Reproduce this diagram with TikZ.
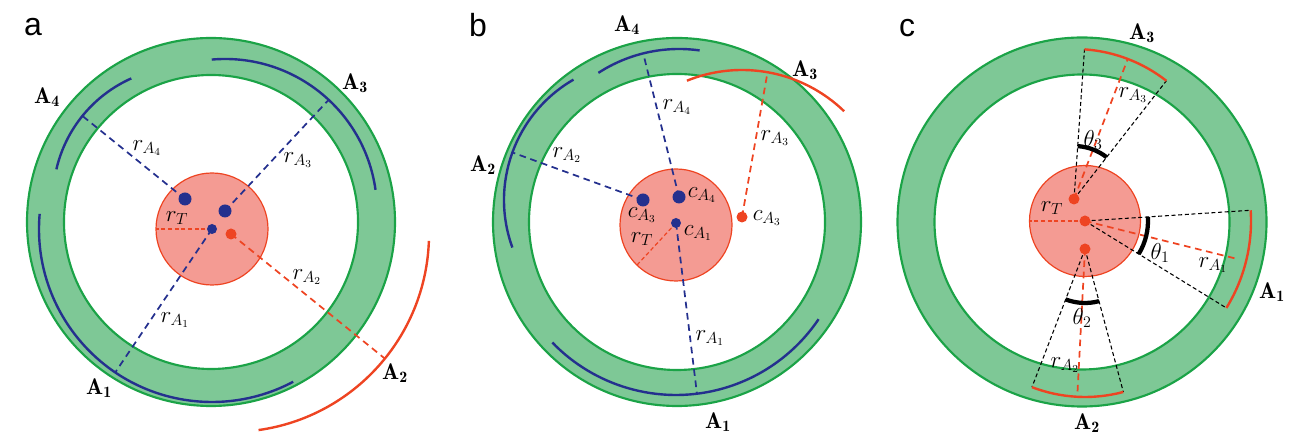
\documentclass[tikz,border=0pt]{standalone}
\usepackage{fontspec}
\newfontfamily\panelfont{Liberation Sans}
\usetikzlibrary{calc}
\definecolor{ringfill}{HTML}{7EC896}
\definecolor{ringline}{HTML}{1BA347}
\definecolor{tfill}{HTML}{F49B93}
\definecolor{tline}{HTML}{EE4422}
\definecolor{ablue}{HTML}{24308E}
\begin{document}
\begin{tikzpicture}[x=0.75pt,y=0.75pt,
  ringfillstyle/.style={fill=ringfill,even odd rule},
  ringdraw/.style={draw=ringline,line width=1.6pt},
  tumor/.style={fill=tfill,draw=tline,line width=0.9pt},
  arcb/.style={draw=ablue,line width=1.8pt},
  arco/.style={draw=tline,line width=1.8pt},
  dashb/.style={draw=ablue,line width=1.3pt,dash pattern=on 5pt off 3.5pt},
  dasho/.style={draw=tline,line width=1.3pt,dash pattern=on 5pt off 3.5pt},
  dashot/.style={draw=tline,line width=0.9pt,dash pattern=on 3pt off 2pt},
  dashk/.style={draw=black,line width=0.8pt,dash pattern=on 3pt off 2pt},
  thick arc/.style={draw=black,line width=3.2pt},
  dotb/.style={fill=ablue},
  doto/.style={fill=tline},
  lab/.style={inner sep=0pt,font=\fontsize{17}{18}\selectfont},
  alab/.style={inner sep=0pt,font=\fontsize{17}{18}\selectfont},
  plab/.style={inner sep=0pt,font=\panelfont\fontsize{24}{26}\selectfont}]
\useasboundingbox (0,0) rectangle (1294,448);
% ---------------- panel a
\coordinate (Ra) at (211,226);
\coordinate (Ta) at (212,219);
\coordinate (a4) at (185,249);
\coordinate (a3) at (225,237);
\coordinate (a2) at (231,214);
\fill[ringfillstyle] (Ra) circle (184) (Ra) circle (147);
\draw[ringdraw] (Ra) circle (184) (Ra) circle (147);
\draw[tumor] (Ta) circle (56);
\draw[arcb] ($(Ta)+(175:173)$) arc[start angle=175,end angle=298,radius=173];
\draw[arcb] ($(a3)+(8:152)$) arc[start angle=8,end angle=95,radius=152];
\draw[arcb] ($(a4)+(114:132)$) arc[start angle=114,end angle=167,radius=132];
\draw[arco] ($(a2)+(-82:198)$) arc[start angle=-82,end angle=-2,radius=198];
\coordinate (a1e) at ($(Ta)+(236:173)$);
\coordinate (a3e) at ($(a3)+(47:152)$);
\coordinate (a4e) at ($(a4)+(141:132)$);
\coordinate (a2e) at ($(a2)+(-39:198)$);
\coordinate (aTe) at (156,219);
\draw[dashb] (Ta) -- (a1e);
\draw[dashb] (a3) -- (a3e);
\draw[dashb] (a4) -- (a4e);
\draw[dasho] (a2) -- (a2e);
\draw[dashot] (Ta) -- (aTe);
\fill[dotb] (a4) circle (6.5);
\fill[dotb] (a3) circle (6.5);
\fill[dotb] (Ta) circle (5);
\fill[doto] (a2) circle (5.5);
\node[plab] (pa) at (33,421) {a};
\node[alab] (la4) at (47,351) {$\mathbf{A_4}$};
\node[alab] (la3) at (355,365) {$\mathbf{A_3}$};
\node[alab] (la2) at (395,75) {$\mathbf{A_2}$};
\node[alab] (la1) at (99,60) {$\mathbf{A_1}$};
\node[lab] (lra4) at (147,300) {$r_{A_4}$};
\node[lab] (lra3) at (298,288) {$r_{A_3}$};
\node[lab] (lra2) at (307,171) {$r_{A_2}$};
\node[lab] (lra1) at (175,128) {$r_{A_1}$};
\node[lab] (lrta) at (177,230) {$r_T$};
% ---------------- panel b
\coordinate (Rb) at (677,226);
\coordinate (Tb) at (676,223);
\coordinate (b1) at (676,225);
\coordinate (b3) at (643,248);
\coordinate (b4) at (679,251);
\coordinate (bo) at (742,231);
\fill[ringfillstyle] (Rb) circle (184) (Rb) circle (148);
\draw[ringdraw] (Rb) circle (184) (Rb) circle (148);
\draw[tumor] (Tb) circle (56);
\draw[arcb] ($(b4)+(82:148)$) arc[start angle=82,end angle=123,radius=148];
\draw[arcb] ($(b3)+(120:139)$) arc[start angle=120,end angle=200,radius=139];
\draw[arcb] ($(b1)+(224:172)$) arc[start angle=224,end angle=326,radius=172];
\draw[arco] ($(bo)+(46:147)$) arc[start angle=46,end angle=112,radius=147];
\coordinate (b4e) at ($(b4)+(104:148)$);
\coordinate (b3e) at ($(b3)+(160:139)$);
\coordinate (b1e) at ($(b1)+(277:172)$);
\coordinate (boe) at ($(bo)+(80:147)$);
\coordinate (bTe) at (637,183);
\draw[dashb] (b4) -- (b4e);
\draw[dashb] (b3) -- (b3e);
\draw[dashb] (b1) -- (b1e);
\draw[dasho] (bo) -- (boe);
\draw[dashot] (b1) -- (bTe);
\fill[dotb] (b4) circle (6.5);
\fill[dotb] (b3) circle (6.5);
\fill[dotb] (b1) circle (5);
\fill[doto] (bo) circle (5.5);
\node[plab] (pb) at (478,423) {b};
\node[alab] (lb4) at (627,423) {$\mathbf{A_4}$};
\node[alab] (lb3) at (805,378) {$\mathbf{A_3}$};
\node[alab] (lb2) at (483,283) {$\mathbf{A_2}$};
\node[alab] (lb1) at (718,26) {$\mathbf{A_1}$};
\node[lab] (lrb4) at (677,341) {$r_{A_4}$};
\node[lab] (lrb3) at (775,310) {$r_{A_3}$};
\node[lab] (lrb2) at (567,293) {$r_{A_2}$};
\node[lab] (lrb1) at (710,110) {$r_{A_1}$};
\node[lab] (lcb4) at (702,253) {$c_{A_4}$};
\node[lab] (lcb3) at (642,233) {$c_{A_3}$};
\node[lab] (lcb1) at (698,215) {$c_{A_1}$};
\node[lab] (lcbo) at (767,230) {$c_{A_3}$};
\node[lab] (lrtb) at (642,209) {$r_T$};
% ---------------- panel c
\coordinate (Rc) at (1082,226);
\coordinate (Tc) at (1085,227);
\coordinate (c3) at (1074,249);
\coordinate (c2) at (1085,199);
\fill[ringfillstyle] (Rc) circle (184.5) (Rc) circle (147.5);
\draw[ringdraw] (Rc) circle (184.5) (Rc) circle (147.5);
\draw[tumor] (Tc) circle (55.5);
\coordinate (cTe) at (1030,227);
\draw[dashot] (Tc) -- (cTe);
% theta1
\coordinate (c1a) at ($(Tc)+(3.7:166)$);
\coordinate (c1b) at ($(Tc)+(-31.6:166)$);
\coordinate (c1m) at ($(Tc)+(-14:158)$);
\draw[dashk] (Tc) -- (c1a);
\draw[dashk] (Tc) -- (c1b);
\draw[dasho] (Tc) -- (c1m);
\draw[arco] (c1b) arc[start angle=-31.6,end angle=3.7,radius=166];
\draw[thick arc] ($(Tc)+(-31.6:63)$) arc[start angle=-31.6,end angle=3.7,radius=63];
% theta2
\coordinate (c2a) at ($(c2)+(249:148)$);
\coordinate (c2b) at ($(c2)+(285:148)$);
\coordinate (c2m) at ($(c2)+(267:148)$);
\draw[dashk] (c2) -- (c2a);
\draw[dashk] (c2) -- (c2b);
\draw[dasho] (c2) -- (c2m);
\draw[arco] (c2a) arc[start angle=249,end angle=285,radius=148];
\draw[thick arc] ($(c2)+(249:54)$) arc[start angle=249,end angle=285,radius=54];
% theta3
\coordinate (c3a) at ($(c3)+(52:150)$);
\coordinate (c3b) at ($(c3)+(86:150)$);
\coordinate (c3m) at ($(c3)+(69:150)$);
\draw[dashk] (c3) -- (c3a);
\draw[dashk] (c3) -- (c3b);
\draw[dasho] (c3) -- (c3m);
\draw[arco] (c3a) arc[start angle=52,end angle=86,radius=150];
\draw[thick arc] ($(c3)+(52:53)$) arc[start angle=52,end angle=86,radius=53];
\fill[doto] (Tc) circle (5.5);
\fill[doto] (c3) circle (5.5);
\fill[doto] (c2) circle (5.5);
\node[plab] (pc) at (907,420) {c};
\node[alab] (lc3) at (1142,415) {$\mathbf{A_3}$};
\node[alab] (lc1) at (1272,156) {$\mathbf{A_1}$};
\node[alab] (lc2) at (1087,25) {$\mathbf{A_2}$};
\node[lab] (lt3) at (1093,308) {$\theta_3$};
\node[lab] (lt1) at (1160,195) {$\theta_1$};
\node[lab] (lt2) at (1082,130) {$\theta_2$};
\node[lab] (lrc3) at (1133,353) {$r_{A_3}$};
\node[lab] (lrc1) at (1213,183) {$r_{A_1}$};
\node[lab] (lrc2) at (1065,83) {$r_{A_2}$};
\node[lab] (lrtc) at (1052,240) {$r_T$};
\end{tikzpicture}
\end{document}
